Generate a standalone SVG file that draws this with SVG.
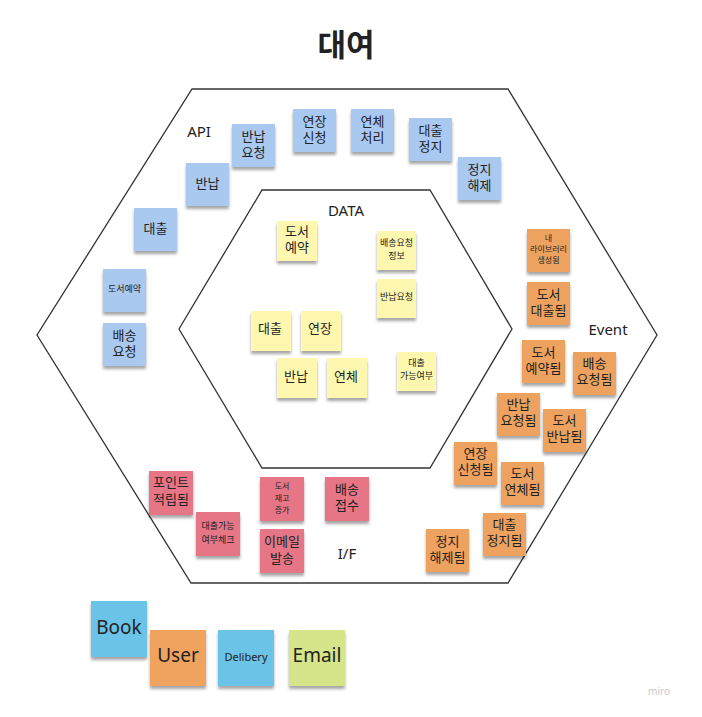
<svg xmlns="http://www.w3.org/2000/svg" width="702" height="717" viewBox="0 0 702 717">
<defs>
<filter id="sh" x="-20%" y="-20%" width="140%" height="150%">
<feDropShadow dx="0" dy="3" stdDeviation="1.6" flood-color="#000" flood-opacity="0.35"/>
</filter>
<style>
text{font-family:"Liberation Sans","Noto Sans CJK KR",sans-serif;fill:#222;text-anchor:middle;dominant-baseline:central}
.hex{fill:none;stroke:#333;stroke-width:1.3}
.n{filter:url(#sh)}
.b{fill:#a9c9f0}
.y{fill:#fdf7b0}
.o{fill:#eda35e}
.r{fill:#e67586}
.lb{fill:#6cc3e8}
.lo{fill:#f0a35e}
.lg{fill:#d6e48a}
.t{font-size:13px}
.s{font-size:9px}
.xs{font-size:8px}
.lab{font-size:15px;font-family:"Noto Sans",sans-serif}
.leg{font-size:19px;font-family:"Noto Sans",sans-serif}
</style>
</defs>
<rect width="702" height="717" fill="#fff"/>
<text x="346" y="45" style="font-size:31px;font-weight:bold" fill="#111">대여</text>
<g id="connectors">
<polygon class="hex" points="192,89 508,89 657,335 508,583 191,583 37,335"/>
<polygon class="hex" points="262,190 430,190 512,329 430,468 262,468 179,329"/>
</g>
<g id="labels">
<text class="lab" x="199" y="131">API</text>
<text class="lab" x="346" y="210">DATA</text>
<text class="lab" x="608" y="329">Event</text>
<text class="lab" x="347" y="553">I/F</text>
</g>
<g id="api">
<g id="api-return-req"><rect class="n b" x="232" y="124" width="43" height="43"/><text class="t" y="136"><tspan x="253.5">반납</tspan><tspan x="253.5" dy="16">요청</tspan></text></g>
<g id="api-extend"><rect class="n b" x="293" y="109" width="43" height="43"/><text class="t" y="121"><tspan x="314.5">연장</tspan><tspan x="314.5" dy="16">신청</tspan></text></g>
<g id="api-overdue"><rect class="n b" x="351" y="109" width="43" height="43"/><text class="t" y="121"><tspan x="372.5">연체</tspan><tspan x="372.5" dy="16">처리</tspan></text></g>
<g id="api-suspend"><rect class="n b" x="409" y="118" width="43" height="43"/><text class="t" y="130"><tspan x="430.5">대출</tspan><tspan x="430.5" dy="16">정지</tspan></text></g>
<g id="api-unsuspend"><rect class="n b" x="458" y="157" width="43" height="43"/><text class="t" y="169"><tspan x="479.5">정지</tspan><tspan x="479.5" dy="16">해제</tspan></text></g>
<g id="api-return"><rect class="n b" x="186" y="163" width="43" height="43"/><text class="t" x="207.5" y="183">반납</text></g>
<g id="api-loan"><rect class="n b" x="134" y="208" width="43" height="43"/><text class="t" x="155.5" y="228">대출</text></g>
<g id="api-reserve"><rect class="n b" x="103" y="269" width="43" height="43"/><text class="s" x="124.5" y="289">도서예약</text></g>
<g id="api-delivery"><rect class="n b" x="103" y="323" width="43" height="43"/><text class="t" y="335"><tspan x="124.5">배송</tspan><tspan x="124.5" dy="16">요청</tspan></text></g>
</g>
<g id="data">
<g id="d-reserve"><rect class="n y" x="277" y="221" width="40" height="40"/><text class="t" y="231"><tspan x="297">도서</tspan><tspan x="297" dy="16">예약</tspan></text></g>
<g id="d-delivinfo"><rect class="n y" x="377" y="231" width="39" height="39"/><text class="s" y="243"><tspan x="396.5">배송요청</tspan><tspan x="396.5" dy="13">정보</tspan></text></g>
<g id="d-returnreq"><rect class="n y" x="377" y="279" width="39" height="39"/><text class="s" x="396.5" y="297">반납요청</text></g>
<g id="d-loan"><rect class="n y" x="251" y="311" width="40" height="40"/><text class="t" x="270" y="328">대출</text></g>
<g id="d-extend"><rect class="n y" x="301" y="311" width="40" height="40"/><text class="t" x="320" y="328">연장</text></g>
<g id="d-return"><rect class="n y" x="277" y="358" width="40" height="40"/><text class="t" x="296" y="376">반납</text></g>
<g id="d-overdue"><rect class="n y" x="327" y="358" width="40" height="40"/><text class="t" x="346" y="376">연체</text></g>
<g id="d-available"><rect class="n y" x="397" y="352" width="39" height="39"/><text class="s" y="363"><tspan x="416.5">대출</tspan><tspan x="416.5" dy="13">가능여부</tspan></text></g>
</g>
<g id="events">
<g id="e-library"><rect class="n o" x="527" y="229" width="43" height="43"/><text class="xs" y="238"><tspan x="548.5">내</tspan><tspan x="548.5" dy="11">라이브러리</tspan><tspan x="548.5" dy="11">생성됨</tspan></text></g>
<g id="e-loaned"><rect class="n o" x="527" y="282" width="43" height="43"/><text class="t" y="294"><tspan x="548.5">도서</tspan><tspan x="548.5" dy="16">대출됨</tspan></text></g>
<g id="e-reserved"><rect class="n o" x="522" y="340" width="43" height="43"/><text class="t" y="352"><tspan x="543.5">도서</tspan><tspan x="543.5" dy="16">예약됨</tspan></text></g>
<g id="e-delivreq"><rect class="n o" x="573" y="352" width="43" height="43"/><text class="t" y="363"><tspan x="594.5">배송</tspan><tspan x="594.5" dy="16">요청됨</tspan></text></g>
<g id="e-returnreq"><rect class="n o" x="497" y="393" width="43" height="43"/><text class="t" y="404"><tspan x="518.5">반납</tspan><tspan x="518.5" dy="16">요청됨</tspan></text></g>
<g id="e-returned"><rect class="n o" x="543" y="409" width="43" height="43"/><text class="t" y="420"><tspan x="564.5">도서</tspan><tspan x="564.5" dy="16">반납됨</tspan></text></g>
<g id="e-extended"><rect class="n o" x="454" y="442" width="43" height="43"/><text class="t" y="453"><tspan x="475.5">연장</tspan><tspan x="475.5" dy="16">신청됨</tspan></text></g>
<g id="e-overdue"><rect class="n o" x="501" y="462" width="43" height="43"/><text class="t" y="473"><tspan x="522.5">도서</tspan><tspan x="522.5" dy="16">연체됨</tspan></text></g>
<g id="e-suspended"><rect class="n o" x="483" y="513" width="43" height="43"/><text class="t" y="524"><tspan x="504.5">대출</tspan><tspan x="504.5" dy="16">정지됨</tspan></text></g>
<g id="e-unsuspended"><rect class="n o" x="426" y="529" width="43" height="43"/><text class="t" y="541"><tspan x="447.5">정지</tspan><tspan x="447.5" dy="16">해제됨</tspan></text></g>
</g>
<g id="if">
<g id="i-point"><rect class="n r" x="149" y="471" width="44" height="44"/><text class="t" y="482"><tspan x="171">포인트</tspan><tspan x="171" dy="17">적립됨</tspan></text></g>
<g id="i-check"><rect class="n r" x="196" y="512" width="44" height="44"/><text class="s" y="526"><tspan x="218">대출가능</tspan><tspan x="218" dy="14">여부체크</tspan></text></g>
<g id="i-stock"><rect class="n r" x="260" y="477" width="44" height="44"/><text class="xs" y="486"><tspan x="282">도서</tspan><tspan x="282" dy="12">재고</tspan><tspan x="282" dy="12">증가</tspan></text></g>
<g id="i-delivery"><rect class="n r" x="325" y="477" width="44" height="44"/><text class="t" y="489"><tspan x="347">배송</tspan><tspan x="347" dy="16">접수</tspan></text></g>
<g id="i-email"><rect class="n r" x="260" y="529" width="44" height="44"/><text class="t" y="541"><tspan x="282">이메일</tspan><tspan x="282" dy="17">발송</tspan></text></g>
</g>
<g id="legend">
<g id="l-book"><rect class="n lb" x="91" y="601" width="56" height="56"/><text class="leg" x="119" y="627">Book</text></g>
<g id="l-user"><rect class="n lo" x="150" y="630" width="56" height="56"/><text class="leg" x="178" y="655">User</text></g>
<g id="l-delibery"><rect class="n lb" x="218" y="630" width="56" height="56"/><text x="246" y="656" style="font-size:11px;font-family:'Noto Sans',sans-serif">Delibery</text></g>
<g id="l-email"><rect class="n lg" x="289" y="630" width="56" height="56"/><text class="leg" x="317" y="655">Email</text></g>
</g>
<text x="659" y="691" style="font-size:10px;fill:#c8c8cc;font-family:'Noto Sans',sans-serif">miro</text>
</svg>
